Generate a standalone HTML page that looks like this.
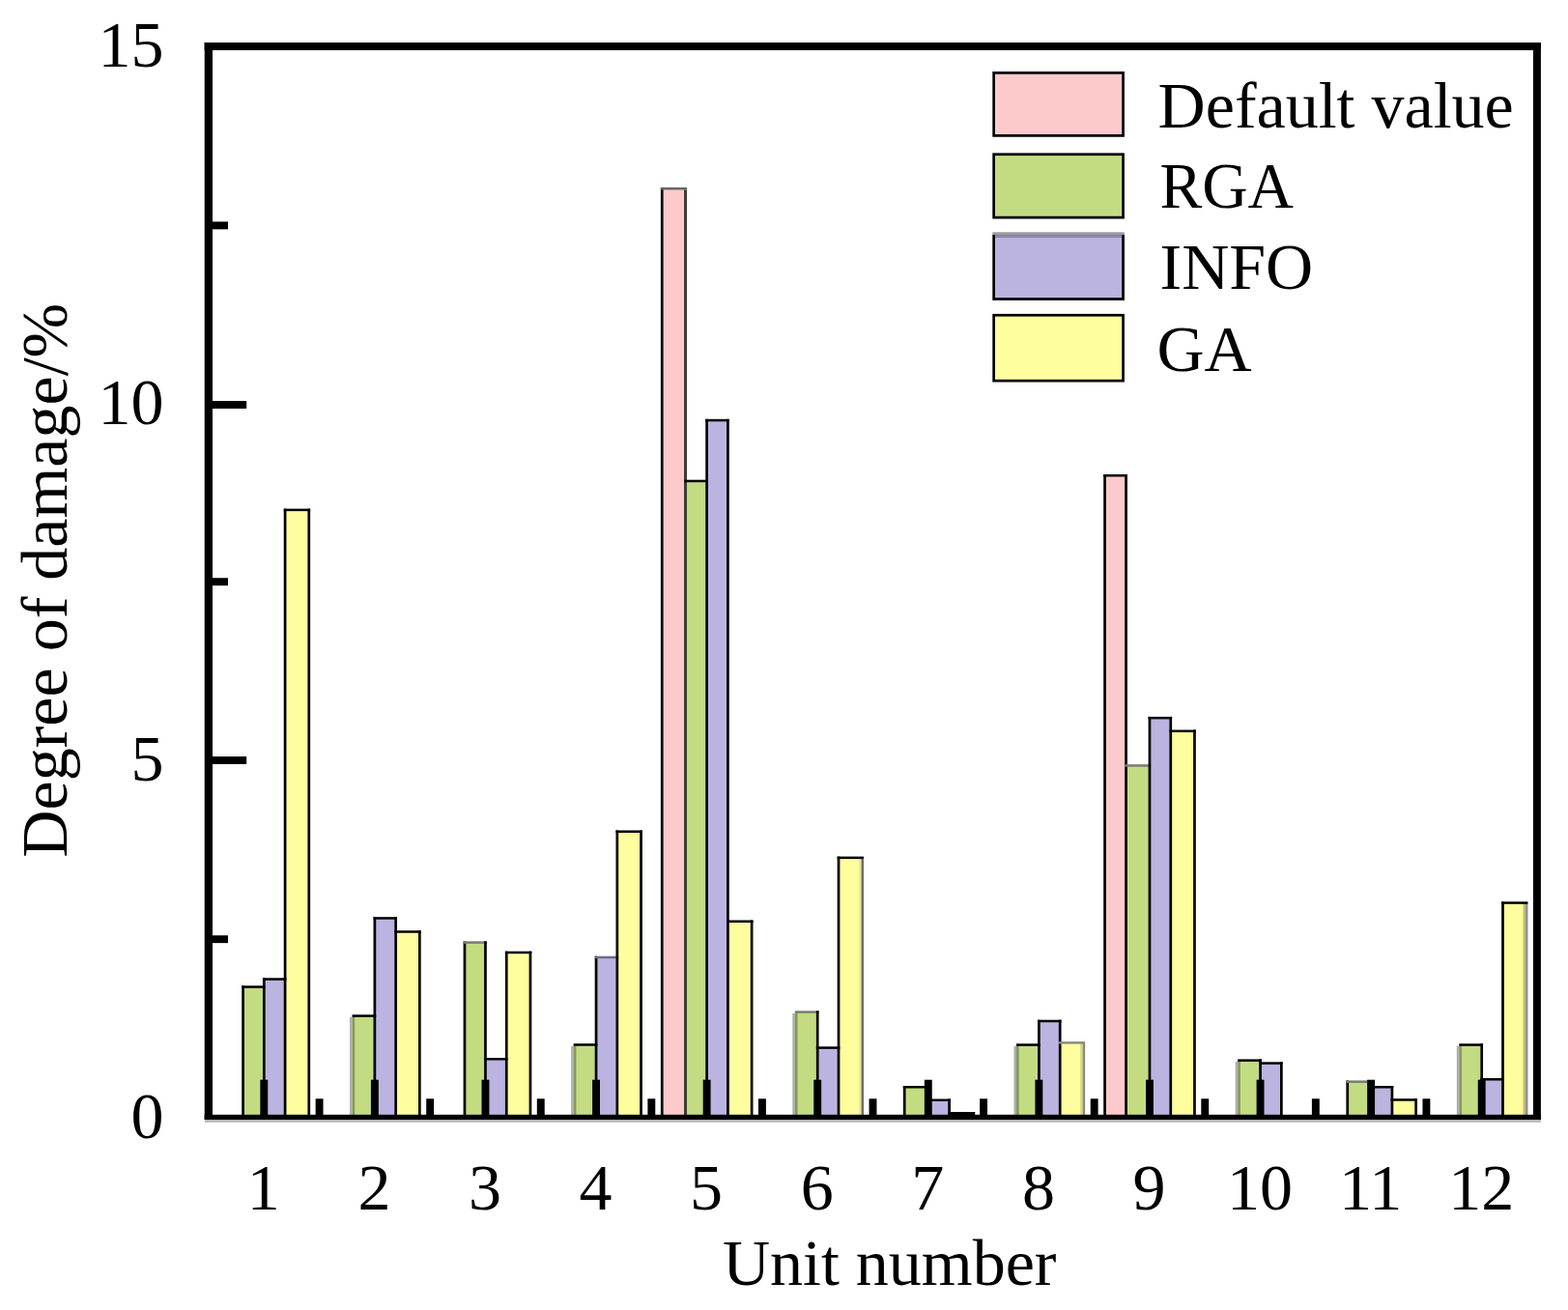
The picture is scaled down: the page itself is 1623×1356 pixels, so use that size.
<!DOCTYPE html>
<html lang="en">
<head>
<meta charset="utf-8">
<title>Degree of damage by unit number</title>
<style>
html,body{margin:0;padding:0;background:#fff;}
body{width:1623px;height:1356px;overflow:hidden;}
svg{display:block;}
svg text{font-family:"Liberation Serif","Times New Roman",serif;font-size:68px;fill:#000;}
</style>
</head>
<body>
<svg width="1623" height="1356" viewBox="0 0 1623 1356">
<rect x="0" y="0" width="1623" height="1356" fill="#ffffff"/>
<g><!-- unit 1 -->
<rect x="251.59" y="1021.30" width="21.70" height="133.70" fill="#c3dc82"/>
<rect x="273.29" y="1013.30" width="21.80" height="141.70" fill="#bcb4e0"/>
<rect x="295.09" y="527.60" width="24.70" height="627.40" fill="#fefe9e"/>
<rect x="250.24" y="1020.30" width="2.70" height="134.70" fill="#000"/>
<rect x="250.24" y="1020.30" width="24.40" height="2.50" fill="#000"/>
<rect x="271.94" y="1012.30" width="2.70" height="142.70" fill="#000"/>
<rect x="271.94" y="1012.30" width="24.50" height="2.50" fill="#000"/>
<rect x="293.74" y="526.60" width="2.70" height="628.40" fill="#000"/>
<rect x="318.44" y="526.60" width="2.70" height="628.40" fill="#000"/>
<rect x="293.74" y="526.60" width="27.40" height="2.50" fill="#000"/>
</g>
<g><!-- unit 2 -->
<rect x="365.77" y="1051.30" width="22.10" height="103.70" fill="#c3dc82"/>
<rect x="387.88" y="950.20" width="21.80" height="204.80" fill="#bcb4e0"/>
<rect x="409.68" y="964.20" width="24.70" height="190.80" fill="#fefe9e"/>
<rect x="361.97" y="1052.90" width="2.50" height="102.10" fill="#aeaeae"/>
<rect x="364.47" y="1052.30" width="2.70" height="102.70" fill="#86985a"/>
<rect x="364.47" y="1050.30" width="24.75" height="2.50" fill="#000"/>
<rect x="386.52" y="949.20" width="2.70" height="205.80" fill="#000"/>
<rect x="386.52" y="949.20" width="24.50" height="2.50" fill="#000"/>
<rect x="408.32" y="949.20" width="2.70" height="205.80" fill="#000"/>
<rect x="433.02" y="963.20" width="2.70" height="191.80" fill="#000"/>
<rect x="408.32" y="963.20" width="27.40" height="2.50" fill="#000"/>
</g>
<g><!-- unit 3 -->
<rect x="480.96" y="975.30" width="21.50" height="179.70" fill="#c3dc82"/>
<rect x="502.46" y="1096.00" width="21.80" height="59.00" fill="#bcb4e0"/>
<rect x="524.26" y="985.70" width="24.70" height="169.30" fill="#fefe9e"/>
<rect x="479.61" y="974.30" width="2.70" height="180.70" fill="#000"/>
<rect x="479.61" y="974.30" width="24.20" height="2.50" fill="#7a7c74"/>
<rect x="501.11" y="974.30" width="2.70" height="180.70" fill="#000"/>
<rect x="501.11" y="1095.00" width="24.50" height="2.50" fill="#000"/>
<rect x="522.91" y="984.70" width="2.70" height="170.30" fill="#000"/>
<rect x="547.61" y="984.70" width="2.70" height="170.30" fill="#000"/>
<rect x="522.91" y="984.70" width="27.40" height="2.50" fill="#000"/>
</g>
<g><!-- unit 4 -->
<rect x="594.94" y="1081.20" width="22.10" height="73.80" fill="#c3dc82"/>
<rect x="617.04" y="990.70" width="21.80" height="164.30" fill="#bcb4e0"/>
<rect x="638.84" y="860.50" width="24.70" height="294.50" fill="#fefe9e"/>
<rect x="591.14" y="1082.80" width="2.50" height="72.20" fill="#aeaeae"/>
<rect x="593.64" y="1082.20" width="2.70" height="72.80" fill="#86985a"/>
<rect x="593.64" y="1080.20" width="24.75" height="2.50" fill="#000"/>
<rect x="615.69" y="989.70" width="2.70" height="165.30" fill="#000"/>
<rect x="615.69" y="989.70" width="24.50" height="2.50" fill="#6e6a86"/>
<rect x="637.49" y="859.50" width="2.70" height="295.50" fill="#000"/>
<rect x="662.19" y="859.50" width="2.70" height="295.50" fill="#000"/>
<rect x="637.49" y="859.50" width="27.40" height="2.50" fill="#000"/>
</g>
<g><!-- unit 5 -->
<rect x="685.23" y="195.00" width="24.50" height="960.00" fill="#fccaca"/>
<rect x="709.73" y="497.70" width="21.90" height="657.30" fill="#c3dc82"/>
<rect x="731.62" y="434.80" width="21.80" height="720.20" fill="#bcb4e0"/>
<rect x="753.42" y="953.50" width="24.70" height="201.50" fill="#fefe9e"/>
<rect x="683.88" y="194.00" width="2.70" height="961.00" fill="#000"/>
<rect x="683.88" y="194.00" width="27.20" height="2.50" fill="#686666"/>
<rect x="708.02" y="196.50" width="3.00" height="958.50" fill="#3c3c34"/>
<rect x="708.38" y="496.70" width="24.60" height="2.50" fill="#000"/>
<rect x="730.27" y="433.80" width="2.70" height="721.20" fill="#000"/>
<rect x="730.27" y="433.80" width="24.50" height="2.50" fill="#000"/>
<rect x="752.07" y="433.80" width="2.70" height="721.20" fill="#000"/>
<rect x="776.77" y="952.50" width="2.70" height="202.50" fill="#000"/>
<rect x="752.07" y="952.50" width="27.40" height="2.50" fill="#000"/>
</g>
<g><!-- unit 6 -->
<rect x="824.11" y="1047.30" width="22.10" height="107.70" fill="#c3dc82"/>
<rect x="846.21" y="1084.30" width="21.80" height="70.70" fill="#bcb4e0"/>
<rect x="868.01" y="887.60" width="24.70" height="267.40" fill="#fefe9e"/>
<rect x="820.31" y="1048.90" width="2.50" height="106.10" fill="#aeaeae"/>
<rect x="822.81" y="1048.30" width="2.70" height="106.70" fill="#86985a"/>
<rect x="822.81" y="1046.30" width="24.75" height="2.50" fill="#7a7c74"/>
<rect x="844.86" y="1046.30" width="2.70" height="108.70" fill="#000"/>
<rect x="844.86" y="1083.30" width="24.50" height="2.50" fill="#000"/>
<rect x="866.66" y="886.60" width="2.70" height="268.40" fill="#000"/>
<rect x="889.01" y="888.20" width="2.50" height="266.80" fill="#ecec94"/>
<rect x="891.51" y="887.80" width="2.50" height="267.20" fill="#6e6e6e"/>
<rect x="866.66" y="886.60" width="27.25" height="2.50" fill="#000"/>
</g>
<g><!-- unit 7 -->
<rect x="936.19" y="1125.00" width="24.60" height="30.00" fill="#c3dc82"/>
<rect x="960.79" y="1138.50" width="21.80" height="16.50" fill="#bcb4e0"/>
<rect x="982.59" y="1152.00" width="25.20" height="3.00" fill="#000"/>
<rect x="934.84" y="1124.00" width="2.70" height="31.00" fill="#000"/>
<rect x="934.84" y="1124.00" width="27.30" height="2.50" fill="#000"/>
<rect x="959.44" y="1124.00" width="2.70" height="31.00" fill="#000"/>
<rect x="959.44" y="1137.50" width="24.50" height="2.50" fill="#000"/>
<rect x="981.24" y="1137.50" width="2.70" height="17.50" fill="#000"/>
<rect x="1006.44" y="1151.00" width="2.70" height="4.00" fill="#000"/>
<rect x="981.24" y="1151.00" width="27.90" height="2.50" fill="#000"/>
</g>
<g><!-- unit 8 -->
<rect x="1053.28" y="1081.30" width="22.10" height="73.70" fill="#c3dc82"/>
<rect x="1075.38" y="1056.70" width="21.80" height="98.30" fill="#bcb4e0"/>
<rect x="1097.17" y="1079.10" width="24.70" height="75.90" fill="#fefe9e"/>
<rect x="1049.48" y="1082.90" width="2.50" height="72.10" fill="#aeaeae"/>
<rect x="1051.98" y="1082.30" width="2.70" height="72.70" fill="#86985a"/>
<rect x="1051.98" y="1080.30" width="24.75" height="2.50" fill="#000"/>
<rect x="1074.03" y="1055.70" width="2.70" height="99.30" fill="#000"/>
<rect x="1074.03" y="1055.70" width="24.50" height="2.50" fill="#000"/>
<rect x="1095.83" y="1055.70" width="2.70" height="99.30" fill="#000"/>
<rect x="1118.17" y="1079.70" width="2.50" height="75.30" fill="#d8d88c"/>
<rect x="1120.67" y="1079.30" width="2.50" height="75.70" fill="#8a8a8a"/>
<rect x="1095.83" y="1078.10" width="27.25" height="2.50" fill="#8c8c80"/>
</g>
<g><!-- unit 9 -->
<rect x="1143.56" y="492.00" width="22.00" height="663.00" fill="#fccaca"/>
<rect x="1165.56" y="792.20" width="24.40" height="362.80" fill="#c3dc82"/>
<rect x="1189.96" y="742.90" width="21.80" height="412.10" fill="#bcb4e0"/>
<rect x="1211.76" y="756.50" width="24.70" height="398.50" fill="#fefe9e"/>
<rect x="1142.21" y="491.00" width="2.70" height="664.00" fill="#000"/>
<rect x="1142.21" y="491.00" width="24.70" height="2.50" fill="#000"/>
<rect x="1164.21" y="491.00" width="2.70" height="664.00" fill="#000"/>
<rect x="1164.21" y="791.20" width="27.10" height="2.50" fill="#7a7c74"/>
<rect x="1188.61" y="741.90" width="2.70" height="413.10" fill="#000"/>
<rect x="1188.61" y="741.90" width="24.50" height="2.50" fill="#000"/>
<rect x="1210.41" y="741.90" width="2.70" height="413.10" fill="#000"/>
<rect x="1235.11" y="755.50" width="2.70" height="399.50" fill="#000"/>
<rect x="1210.41" y="755.50" width="27.40" height="2.50" fill="#000"/>
</g>
<g><!-- unit 10 -->
<rect x="1282.44" y="1097.40" width="22.10" height="57.60" fill="#c3dc82"/>
<rect x="1304.54" y="1100.30" width="21.80" height="54.70" fill="#bcb4e0"/>
<rect x="1278.64" y="1099.00" width="2.50" height="56.00" fill="#aeaeae"/>
<rect x="1281.14" y="1098.40" width="2.70" height="56.60" fill="#86985a"/>
<rect x="1281.14" y="1096.40" width="24.75" height="2.50" fill="#000"/>
<rect x="1303.19" y="1096.40" width="2.70" height="58.60" fill="#000"/>
<rect x="1324.99" y="1099.30" width="2.70" height="55.70" fill="#000"/>
<rect x="1303.19" y="1099.30" width="24.50" height="2.50" fill="#000"/>
</g>
<g><!-- unit 11 -->
<rect x="1394.72" y="1119.40" width="24.40" height="35.60" fill="#c3dc82"/>
<rect x="1419.12" y="1125.00" width="21.80" height="30.00" fill="#bcb4e0"/>
<rect x="1440.92" y="1138.20" width="24.70" height="16.80" fill="#fefe9e"/>
<rect x="1393.38" y="1118.40" width="2.70" height="36.60" fill="#000"/>
<rect x="1393.38" y="1118.40" width="27.10" height="2.50" fill="#7a7c74"/>
<rect x="1417.78" y="1118.40" width="2.70" height="36.60" fill="#000"/>
<rect x="1417.78" y="1124.00" width="24.50" height="2.50" fill="#000"/>
<rect x="1439.58" y="1124.00" width="2.70" height="31.00" fill="#000"/>
<rect x="1464.28" y="1137.20" width="2.70" height="17.80" fill="#000"/>
<rect x="1439.58" y="1137.20" width="27.40" height="2.50" fill="#000"/>
</g>
<g><!-- unit 12 -->
<rect x="1511.61" y="1081.30" width="22.10" height="73.70" fill="#c3dc82"/>
<rect x="1533.71" y="1117.00" width="21.80" height="38.00" fill="#bcb4e0"/>
<rect x="1555.51" y="934.30" width="24.70" height="220.70" fill="#fefe9e"/>
<rect x="1507.81" y="1082.90" width="2.50" height="72.10" fill="#aeaeae"/>
<rect x="1510.31" y="1082.30" width="2.70" height="72.70" fill="#86985a"/>
<rect x="1510.31" y="1080.30" width="24.75" height="2.50" fill="#000"/>
<rect x="1532.36" y="1080.30" width="2.70" height="74.70" fill="#000"/>
<rect x="1532.36" y="1116.00" width="24.50" height="2.50" fill="#000"/>
<rect x="1554.16" y="933.30" width="2.70" height="221.70" fill="#000"/>
<rect x="1576.51" y="934.90" width="2.50" height="220.10" fill="#c0c078"/>
<rect x="1579.01" y="934.50" width="2.50" height="220.50" fill="#929292"/>
<rect x="1554.16" y="933.30" width="27.25" height="2.50" fill="#000"/>
</g>
<g fill="#000"><!-- ticks -->
<rect x="269.34" y="1117.70" width="7.90" height="38.30" fill="#000"/>
<rect x="326.63" y="1137.30" width="7.90" height="18.70" fill="#000"/>
<rect x="383.93" y="1117.70" width="7.90" height="38.30" fill="#000"/>
<rect x="441.22" y="1137.30" width="7.90" height="18.70" fill="#000"/>
<rect x="498.51" y="1117.70" width="7.90" height="38.30" fill="#000"/>
<rect x="555.80" y="1137.30" width="7.90" height="18.70" fill="#000"/>
<rect x="613.09" y="1117.70" width="7.90" height="38.30" fill="#000"/>
<rect x="670.38" y="1137.30" width="7.90" height="18.70" fill="#000"/>
<rect x="727.67" y="1117.70" width="7.90" height="38.30" fill="#000"/>
<rect x="784.97" y="1137.30" width="7.90" height="18.70" fill="#000"/>
<rect x="842.26" y="1117.70" width="7.90" height="38.30" fill="#000"/>
<rect x="899.55" y="1137.30" width="7.90" height="18.70" fill="#000"/>
<rect x="956.84" y="1117.70" width="7.90" height="38.30" fill="#000"/>
<rect x="1014.13" y="1137.30" width="7.90" height="18.70" fill="#000"/>
<rect x="1071.42" y="1117.70" width="7.90" height="38.30" fill="#000"/>
<rect x="1128.72" y="1137.30" width="7.90" height="18.70" fill="#000"/>
<rect x="1186.01" y="1117.70" width="7.90" height="38.30" fill="#000"/>
<rect x="1243.30" y="1137.30" width="7.90" height="18.70" fill="#000"/>
<rect x="1300.59" y="1117.70" width="7.90" height="38.30" fill="#000"/>
<rect x="1357.88" y="1137.30" width="7.90" height="18.70" fill="#000"/>
<rect x="1415.17" y="1117.70" width="7.90" height="38.30" fill="#000"/>
<rect x="1472.47" y="1137.30" width="7.90" height="18.70" fill="#000"/>
<rect x="1529.76" y="1117.70" width="7.90" height="38.30" fill="#000"/>
<rect x="216.00" y="968.25" width="20.00" height="7.90" fill="#000"/>
<rect x="216.00" y="783.05" width="39.20" height="7.90" fill="#000"/>
<rect x="216.00" y="598.25" width="20.00" height="7.90" fill="#000"/>
<rect x="216.00" y="415.05" width="39.20" height="7.90" fill="#000"/>
<rect x="216.00" y="229.45" width="20.00" height="7.90" fill="#000"/>
</g>
<g><!-- axes frame -->
<rect x="211.70" y="44.00" width="1383.20" height="8.00" fill="#000"/>
<rect x="211.70" y="44.00" width="8.30" height="1115.00" fill="#000"/>
<rect x="1586.90" y="44.00" width="8.00" height="1115.00" fill="#000"/>
<rect x="211.70" y="1153.80" width="1383.20" height="5.20" fill="#000"/>
<rect x="211.90" y="1159.00" width="1383.00" height="2.80" fill="#b8b8b8"/>
</g>
<g><!-- legend -->
<rect x="1028.65" y="75.40" width="133.90" height="65.00" fill="#fccaca" stroke="#000" stroke-width="2.7"/>
<text x="1198.6" y="131.9">Default value</text>
<rect x="1028.65" y="159.75" width="133.90" height="65.40" fill="#c3dc82" stroke="#000" stroke-width="2.7"/>
<text x="1200.5" y="215.3" textLength="138.5" lengthAdjust="spacingAndGlyphs">RGA</text>
<rect x="1028.65" y="244.25" width="133.90" height="65.30" fill="#bcb4e0" stroke="#000" stroke-width="2.7"/>
<rect x="1027.30" y="240.30" width="136.60" height="2.90" fill="#9c9c9c"/>
<rect x="1030.00" y="243.20" width="131.20" height="2.50" fill="#9a92b6"/>
<text x="1200.5" y="299.4">INFO</text>
<rect x="1028.65" y="326.25" width="133.90" height="67.90" fill="#fefe9e" stroke="#000" stroke-width="2.7"/>
<text x="1197.4" y="383.5">GA</text>
</g>
<g><!-- axis labels -->
<text x="169.6" y="1178.4" text-anchor="end">0</text>
<text x="169.6" y="807.6" text-anchor="end">5</text>
<text x="169.6" y="439.4" text-anchor="end">10</text>
<text x="169.6" y="68.8" text-anchor="end">15</text>
<text x="272.79" y="1251.6" text-anchor="middle">1</text>
<text x="387.38" y="1251.6" text-anchor="middle">2</text>
<text x="501.96" y="1251.6" text-anchor="middle">3</text>
<text x="616.54" y="1251.6" text-anchor="middle">4</text>
<text x="731.12" y="1251.6" text-anchor="middle">5</text>
<text x="845.71" y="1251.6" text-anchor="middle">6</text>
<text x="960.29" y="1251.6" text-anchor="middle">7</text>
<text x="1074.88" y="1251.6" text-anchor="middle">8</text>
<text x="1189.46" y="1251.6" text-anchor="middle">9</text>
<text x="1304.04" y="1251.6" text-anchor="middle">10</text>
<text x="1418.62" y="1251.6" text-anchor="middle">11</text>
<text x="1533.21" y="1251.6" text-anchor="middle">12</text>
<text x="920.7" y="1330" text-anchor="middle">Unit number</text>
<text transform="translate(68.6,600.7) rotate(-90)" text-anchor="middle">Degree of damage/%</text>
</g>
</svg>
</body>
</html>
